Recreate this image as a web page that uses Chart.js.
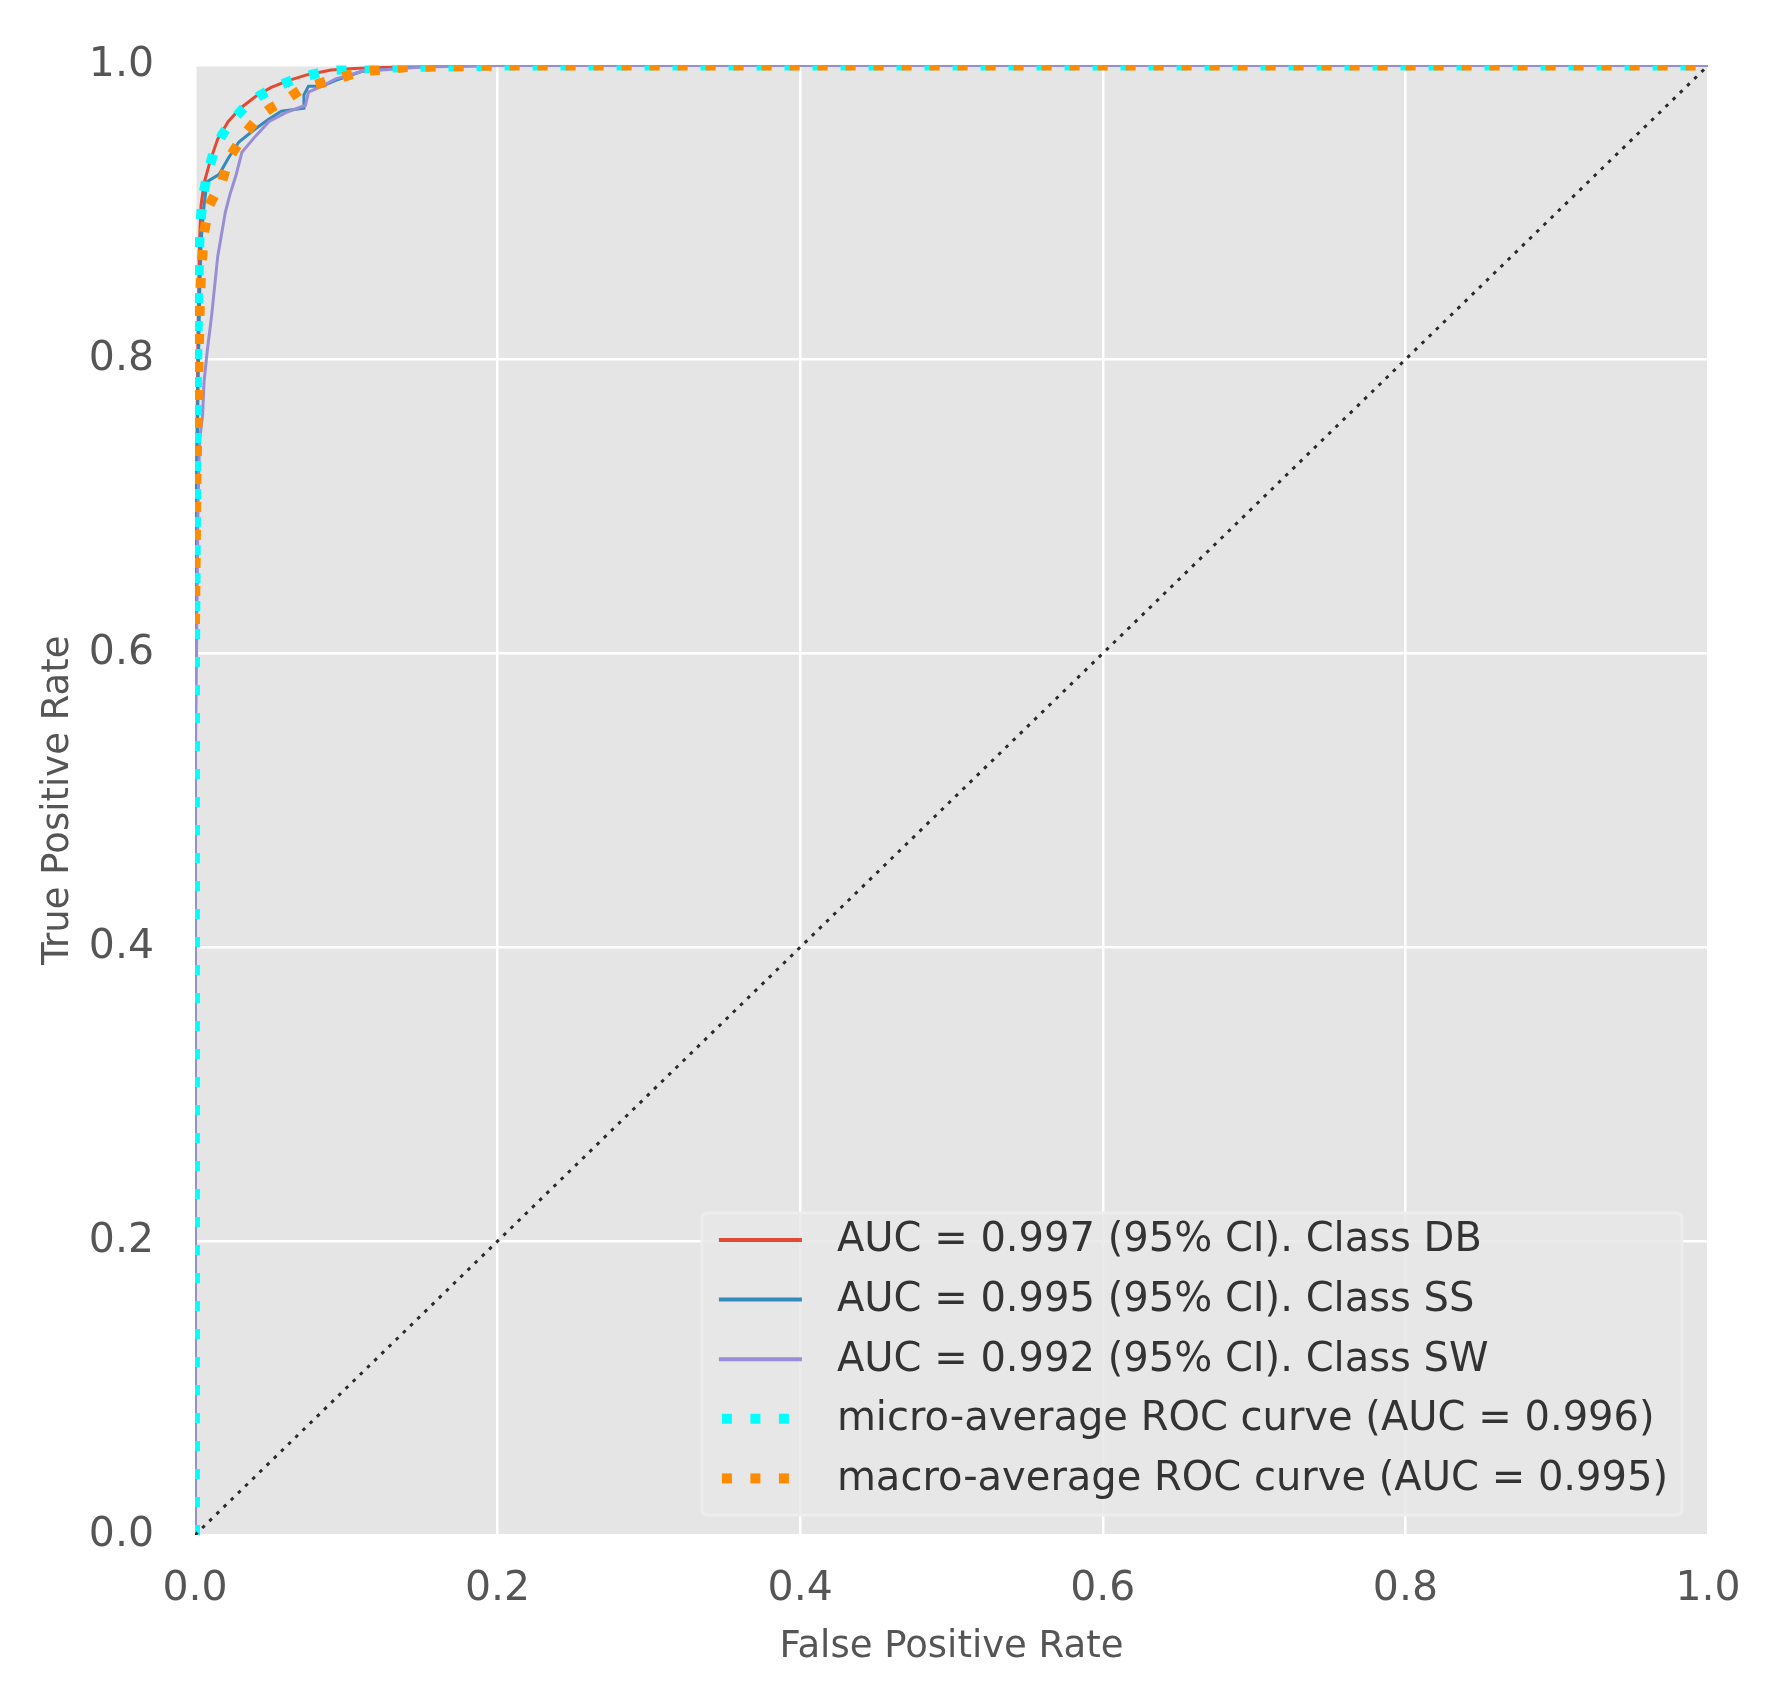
<!DOCTYPE html>
<html>
<head>
<meta charset="utf-8">
<script src="https://cdn.jsdelivr.net/npm/chart.js@4/dist/chart.umd.min.js"></script>
<style>
  html, body { margin: 0; padding: 0; background: #ffffff; }
  #wrap { width: 1776px; height: 1698px; position: relative; }
</style>
</head>
<body>
<div id="wrap"><canvas id="c" width="1776" height="1698"></canvas></div>
<script>
// ---- Data ----
const xTicks = [0, 0.2, 0.4, 0.6, 0.8, 1.0];
const yTicks = [0, 0.2, 0.4, 0.6, 0.8, 1.0];

const seriesLabels = [
  'AUC = 0.997 (95% CI). Class DB',
  'AUC = 0.995 (95% CI). Class SS',
  'AUC = 0.992 (95% CI). Class SW',
  'micro-average ROC curve (AUC = 0.996)',
  'macro-average ROC curve (AUC = 0.995)'
];

const dbFpr = [0, 0, 0.001, 0.002, 0.003, 0.004, 0.006, 0.010, 0.015, 0.022, 0.030, 0.040, 0.050, 0.062, 0.075, 0.090, 0.105, 0.130, 0.180, 1];
const dbTpr = [0, 0.55, 0.72, 0.82, 0.88, 0.905, 0.920, 0.935, 0.950, 0.962, 0.971, 0.979, 0.985, 0.990, 0.994, 0.997, 0.998, 0.999, 1.0, 1.0];

const ssFpr = [0, 0, 0.001, 0.002, 0.003, 0.004, 0.006, 0.008, 0.016, 0.022, 0.029, 0.040, 0.048, 0.057, 0.072, 0.072, 0.075, 0.084, 0.093, 0.110, 0.140, 0.200, 1];
const ssTpr = [0, 0.60, 0.70, 0.78, 0.84, 0.88, 0.905, 0.921, 0.926, 0.937, 0.948, 0.957, 0.963, 0.969, 0.971, 0.980, 0.986, 0.986, 0.990, 0.996, 0.999, 1.0, 1.0];

const swFpr = [0, 0, 0.002, 0.003, 0.005, 0.006, 0.008, 0.011, 0.015, 0.020, 0.023, 0.027, 0.031, 0.040, 0.049, 0.060, 0.073, 0.075, 0.084, 0.093, 0.110, 0.150, 0.200, 1];
const swTpr = [0, 0.50, 0.70, 0.745, 0.762, 0.785, 0.805, 0.830, 0.870, 0.900, 0.912, 0.925, 0.941, 0.952, 0.962, 0.968, 0.973, 0.982, 0.986, 0.991, 0.996, 0.999, 1.0, 1.0];

const microFpr = [0, 0, 0.001, 0.002, 0.003, 0.005, 0.008, 0.012, 0.018, 0.025, 0.033, 0.042, 0.052, 0.064, 0.078, 0.092, 0.110, 0.140, 0.200, 1];
const microTpr = [0, 0.60, 0.76, 0.84, 0.885, 0.910, 0.925, 0.940, 0.953, 0.963, 0.972, 0.979, 0.985, 0.990, 0.994, 0.997, 0.998, 0.999, 1.0, 1.0];

const macroFpr = [0, 0.001, 0.002, 0.003, 0.004, 0.006, 0.009, 0.013, 0.017, 0.022, 0.031, 0.042, 0.050, 0.059, 0.072, 0.090, 0.110, 0.140, 0.200, 1];
const macroTpr = [0.62, 0.72, 0.78, 0.83, 0.86, 0.886, 0.904, 0.912, 0.918, 0.936, 0.951, 0.965, 0.971, 0.976, 0.985, 0.990, 0.996, 0.999, 1.0, 1.0];

const diagX = [0, 1];
const diagY = [0, 1];

// ---- helpers ----
function pts(xs, ys) { return xs.map((x, i) => ({ x: x, y: ys[i] })); }

const FONT = "'DejaVu Sans', 'Liberation Sans', sans-serif";

const styles = [
  { color: '#E24A33', width: 3, dash: [] },
  { color: '#348ABD', width: 3, dash: [] },
  { color: '#988ED5', width: 3, dash: [] },
  { color: '#00FFFF', width: 10, dash: [10, 18] },
  { color: '#FF8C00', width: 10, dash: [10, 18] }
];
const seriesData = [
  pts(dbFpr, dbTpr), pts(ssFpr, ssTpr), pts(swFpr, swTpr),
  pts(microFpr, microTpr), pts(macroFpr, macroTpr)
];

const datasets = seriesData.map((d, i) => ({
  label: seriesLabels[i],
  data: d,
  showLine: true,
  borderColor: styles[i].color,
  backgroundColor: styles[i].color,
  borderWidth: styles[i].width,
  borderDash: styles[i].dash,
  borderCapStyle: 'butt',
  pointRadius: 0,
  tension: 0,
  fill: false,
  order: 10 - i
}));
datasets.push({
  label: 'diag',
  data: pts(diagX, diagY),
  showLine: true,
  borderColor: '#2a2a2a',
  borderWidth: 3,
  borderDash: [3.5, 6.5],
  pointRadius: 0,
  fill: false,
  order: 1
});

const bgPlugin = {
  id: 'plotBg',
  beforeDraw(chart) {
    const { ctx, chartArea: a } = chart;
    ctx.save();
    ctx.fillStyle = '#ffffff';
    ctx.fillRect(0, 0, chart.width, chart.height);
    ctx.fillStyle = '#E5E5E5';
    ctx.fillRect(a.left, a.top, a.right - a.left, a.bottom - a.top);
    ctx.restore();
  }
};

const legendPlugin = {
  id: 'innerLegend',
  afterDraw(chart) {
    const { ctx, chartArea: a } = chart;
    ctx.save();
    ctx.font = '40px ' + FONT;
    let maxW = 0;
    seriesLabels.forEach(t => { maxW = Math.max(maxW, ctx.measureText(t).width); });
    const boxRight = a.right - 26;
    const boxBottom = a.bottom - 20;
    const boxTop = boxBottom - 302;
    const textX = boxRight - 14 - maxW;
    const boxLeft = textX - 135;
    const r = 6;
    ctx.beginPath();
    ctx.moveTo(boxLeft + r, boxTop);
    ctx.lineTo(boxRight - r, boxTop);
    ctx.quadraticCurveTo(boxRight, boxTop, boxRight, boxTop + r);
    ctx.lineTo(boxRight, boxBottom - r);
    ctx.quadraticCurveTo(boxRight, boxBottom, boxRight - r, boxBottom);
    ctx.lineTo(boxLeft + r, boxBottom);
    ctx.quadraticCurveTo(boxLeft, boxBottom, boxLeft, boxBottom - r);
    ctx.lineTo(boxLeft, boxTop + r);
    ctx.quadraticCurveTo(boxLeft, boxTop, boxLeft + r, boxTop);
    ctx.closePath();
    ctx.fillStyle = 'rgba(231,231,231,0.85)';
    ctx.fill();
    ctx.strokeStyle = '#ededed';
    ctx.lineWidth = 3;
    ctx.stroke();
    for (let i = 0; i < seriesLabels.length; i++) {
      const y = boxTop + 27 + i * 59.6;
      const s = styles[i];
      const x0 = textX - 118, x1 = textX - 35;
      ctx.strokeStyle = s.color;
      if (s.dash.length) {
        ctx.fillStyle = s.color;
        for (let k = 0; k < 3; k++) {
          const cx = x0 + 8 + k * 28.5;
          ctx.fillRect(cx - 5, y - 5, 10, 10);
        }
      } else {
        ctx.lineWidth = 4;
        ctx.setLineDash([]);
        ctx.beginPath();
        ctx.moveTo(x0, y);
        ctx.lineTo(x1, y);
        ctx.stroke();
      }
      ctx.fillStyle = '#333333';
      ctx.textAlign = 'left';
      ctx.textBaseline = 'middle';
      ctx.fillText(seriesLabels[i], textX, y + 1);
    }
    ctx.restore();
  }
};

new Chart(document.getElementById('c'), {
  type: 'scatter',
  data: { datasets: datasets },
  options: {
    responsive: false,
    animation: false,
    devicePixelRatio: 1,
    layout: { padding: { left: 0, right: 68, top: 60, bottom: 0 } },
    plugins: {
      legend: { display: false },
      tooltip: { enabled: false },
      title: { display: false }
    },
    scales: {
      x: {
        type: 'linear',
        min: 0, max: 1,
        afterBuildTicks(scale) { scale.ticks = xTicks.map(v => ({ value: v })); },
        afterFit(scale) { scale.height = 163; },
        border: { display: false },
        grid: { color: '#ffffff', lineWidth: 2.5, drawTicks: false },
        ticks: {
          color: '#555555',
          font: { family: FONT, size: 41 },
          padding: 30,
          maxRotation: 0,
          callback: v => v.toFixed(1)
        },
        title: {
          display: true,
          text: 'False Positive Rate',
          color: '#555555',
          font: { family: FONT, size: 37 },
          padding: { top: 28, bottom: 28 }
        }
      },
      y: {
        type: 'linear',
        min: 0, max: 1,
        afterBuildTicks(scale) { scale.ticks = yTicks.map(v => ({ value: v })); },
        afterFit(scale) { scale.width = 195; },
        border: { display: false },
        grid: { color: '#ffffff', lineWidth: 2.5, drawTicks: false },
        ticks: {
          color: '#555555',
          font: { family: FONT, size: 41 },
          padding: 41,
          callback: v => v.toFixed(1)
        },
        title: {
          display: true,
          text: 'True Positive Rate',
          color: '#555555',
          font: { family: FONT, size: 37 },
          padding: { top: 36, bottom: 36 }
        }
      }
    }
  },
  plugins: [bgPlugin, legendPlugin]
});
</script>
</body>
</html>
